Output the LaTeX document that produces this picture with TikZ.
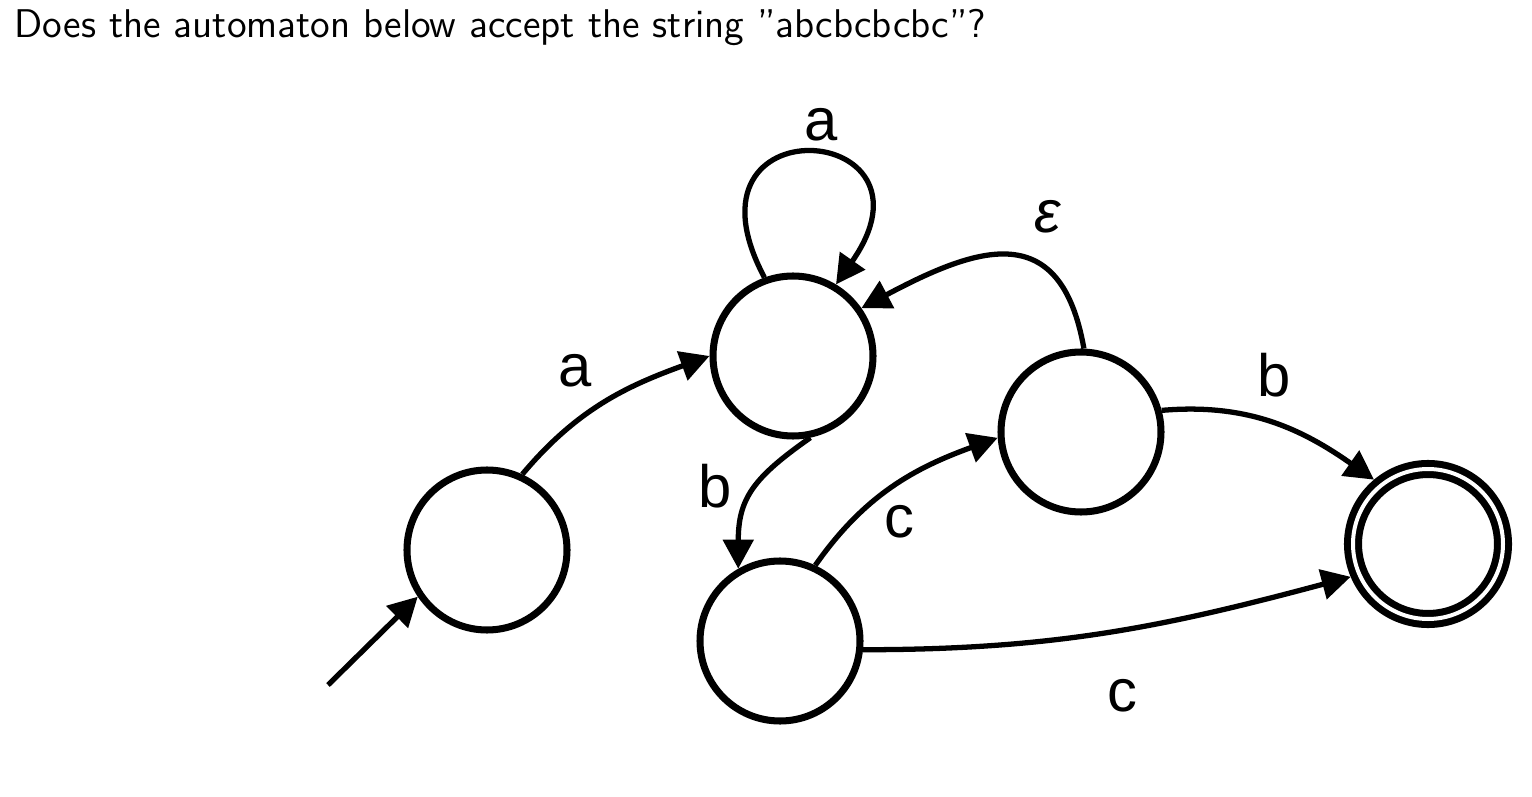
\documentclass[tikz,border=0pt]{standalone}
\usepackage{fontspec}
\usepackage{tikz}
\usetikzlibrary{arrows.meta}
\newfontfamily\lblfont{Liberation Sans}
\tikzset{>={Triangle[length=2.9mm,width=3mm]}}
\tikzset{
    state/.style={circle,draw,line width=2pt,minimum size=1.6cm,inner sep=0pt},
    accepting/.style={circle,draw,line width=2pt,double,double distance=0.4mm,minimum size=1.5cm,inner sep=0pt,outer sep=0.9mm},
    lbl/.style={font=\lblfont\fontsize{17}{20}\selectfont},
    edge/.style={->,line width=1.5pt}
}

\begin{document}
\begin{tikzpicture}
    \useasboundingbox (0,0) rectangle (15.32,7.96);
    \node[anchor=base west,inner sep=0pt,font=\sffamily\fontsize{11.4}{13}\selectfont] (question) at (0.14,7.58) {Does the automaton below accept the string "abcbcbcbc"?};
    \node[state] (q0) at (4.87,2.46) {};
    \node[state] (q1) at (7.93,4.40) {};
    \node[state] (q2) at (7.80,1.55) {};
    \node[state] (q3) at (10.81,3.64) {};
    \node[accepting] (q4) at (14.28,2.52) {};
    \coordinate (init) at (3.28,1.11);
    \draw[edge] (init) -- (q0.214);
    \draw[edge] (q0.65) to[out=50,in=200] node[lbl,midway,above left] (la0) {a} (q1.180);
    \draw[edge] (q1.110) .. controls +(118:2.0) and +(55:2.0) .. (q1.59) node[lbl,pos=0.55,above=0mm] (la1) {a};
    \draw[edge] (q3.88) to[out=100,in=28,looseness=1.5] node[lbl,pos=0.3,above=2.3mm] (leps) {\itshape ε} (q1.35);
    \draw[edge] (q1.282) to[out=215,in=90,looseness=1.2] node[lbl,pos=0.45,left=1mm] (lb1) {b} (q2.120);
    \draw[edge] (q2.65) to[out=55,in=200] node[lbl,pos=0.53,below=0.8mm] (lc2) {c} (q3.184);
    \draw[edge] (q3.15) to[out=5,in=145] node[lbl,midway,above=1.2mm] (lb3) {b} (q4.130);
    \draw[edge] (q2.354) to[out=0,in=195] node[lbl,pos=0.53,below=3.5mm] (lc4) {c} (q4.203);
\end{tikzpicture}
\end{document}
